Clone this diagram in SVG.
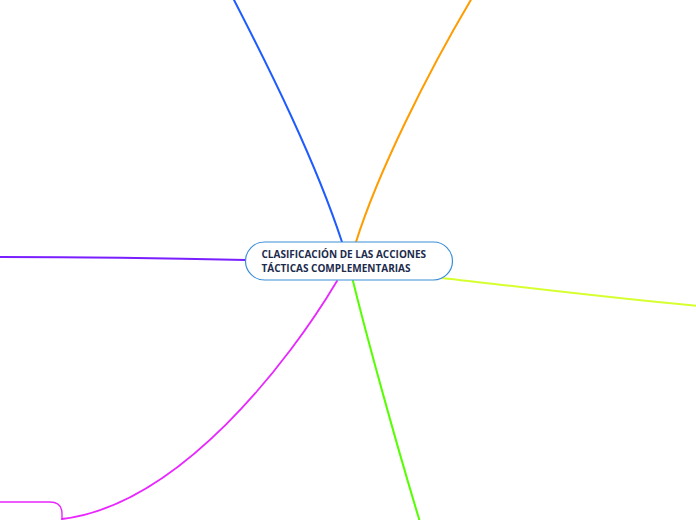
<svg xmlns="http://www.w3.org/2000/svg" width="696" height="520" viewBox="0 0 696 520">
<style>
.c{fill:none;stroke-linecap:round}
.t{font-family:"Open Sans","Noto Sans","Liberation Sans",sans-serif;font-weight:bold;font-size:10px;fill:#1c2b4c}
</style>
<rect width="696" height="520" fill="#ffffff"/>
<g id="connectors">
<path class="c" d="M342,242 C315,160 270,70 233,-2" stroke="#1f5cff" stroke-width="2"/>
<path class="c" d="M356,242 C378,172 428,72 472,-2" stroke="#ff9c00" stroke-width="2"/>
<path class="c" d="M442,278 C530,288 610,298 698,306" stroke="#d6ff2e" stroke-width="2"/>
<path class="c" d="M353,281 C365,330 395,440 420,522" stroke="#55ff00" stroke-width="2"/>
<path class="c" d="M246,260 C160,258 80,257 -2,257" stroke="#7a1fff" stroke-width="2"/>
<path class="c" d="M337,281 C290,360 180,505 62,519" stroke="#e826ff" stroke-width="1.8"/>
<path class="c" d="M62,520 L62,514 Q62,502 50,502 L-2,502" stroke="#e826ff" stroke-width="1.4"/>
</g>
<g id="node-main">
<rect x="245.5" y="242" width="207" height="38" rx="19" ry="19" fill="#ffffff" stroke="#3b8fd8" stroke-width="1.2"/>
<text class="t" x="261.5" y="258.3">CLASIFICACIÓN DE LAS ACCIONES</text>
<text class="t" x="261.5" y="271.8">TÁCTICAS COMPLEMENTARIAS</text>
</g>
</svg>
